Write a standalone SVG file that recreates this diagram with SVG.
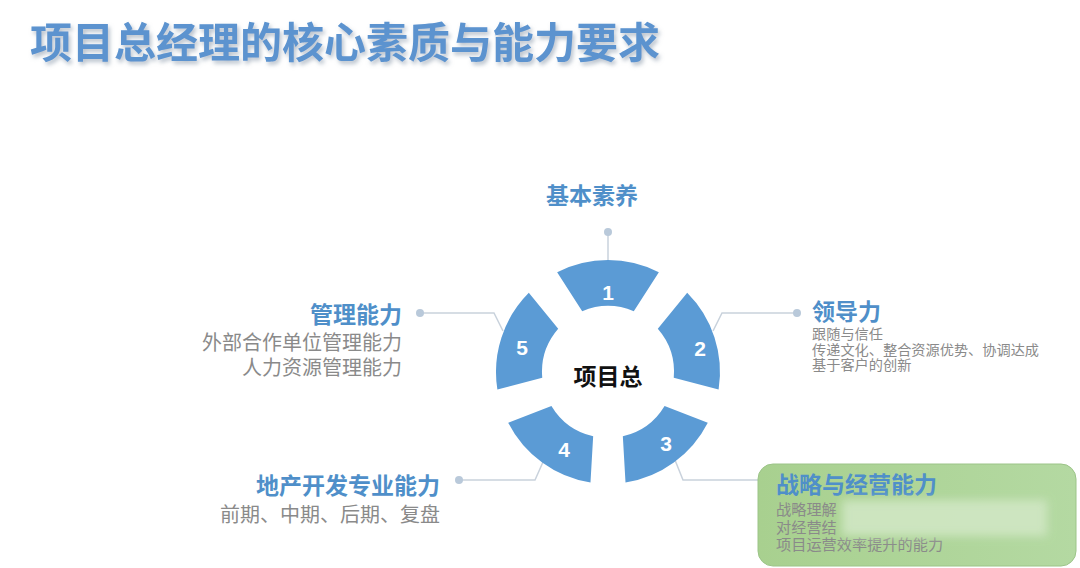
<svg xmlns="http://www.w3.org/2000/svg" width="1080" height="568" viewBox="0 0 1080 568">
<defs>
<style>
.seg{fill:#5b9bd5}
.num{font-family:"Liberation Sans",Arial,sans-serif;font-weight:bold;font-size:21px;fill:#fff;text-anchor:middle;dominant-baseline:central}
.head{font-family:"Noto Sans CJK SC",sans-serif;font-weight:bold;font-size:23px;fill:#4f8fc9}
.sub{font-family:"Noto Sans CJK SC",sans-serif;fill:#8a8a8a}
.conn{fill:none;stroke:#c9d2dc;stroke-width:1.5}
.dot{fill:#b9c9da}
</style>
<filter id="sh" x="-5%" y="-20%" width="110%" height="150%">
<feDropShadow dx="2" dy="3" stdDeviation="2" flood-color="#8a9aaa" flood-opacity="0.6"/>
</filter>
<filter id="blur" x="-20%" y="-50%" width="140%" height="200%">
<feGaussianBlur stdDeviation="5"/>
</filter>
<linearGradient id="gb" x1="0" y1="0" x2="1" y2="0">
<stop offset="0" stop-color="#a8d08f"/>
<stop offset="1" stop-color="#b4d9a2"/>
</linearGradient>
<path id="sector" d="M -50.85 -99.79 A 112 112 0 0 1 50.85 -99.79 L 25.8 -60.75 A 66 66 0 0 0 -25.8 -60.75 Z"/>
</defs>
<rect width="1080" height="568" fill="#fff"/>

<g id="title">
<text x="30" y="58" font-family="Noto Sans CJK SC,sans-serif" font-weight="bold" font-size="42" fill="#5b93cf" filter="url(#sh)">项目总经理的核心素质与能力要求</text>
</g>

<g id="connectors">
<polyline class="conn" points="608,262 608,232"/>
<circle class="dot" cx="608" cy="232" r="4"/>
<polyline class="conn" points="713,331 722,313 797,313"/>
<circle class="dot" cx="797" cy="313" r="4"/>
<polyline class="conn" points="675,460 683,480 760,480"/>
<polyline class="conn" points="503,331 494,313 420,313"/>
<circle class="dot" cx="420" cy="313" r="4"/>
<polyline class="conn" points="543,462 535,480 459,480"/>
<circle class="dot" cx="459" cy="480" r="4"/>
</g>

<g id="ring" transform="translate(608,372)">
<g id="seg1"><use href="#sector" class="seg"/></g>
<g id="seg2"><use href="#sector" class="seg" transform="rotate(72)"/></g>
<g id="seg3"><use href="#sector" class="seg" transform="rotate(144)"/></g>
<g id="seg4"><use href="#sector" class="seg" transform="rotate(216)"/></g>
<g id="seg5"><use href="#sector" class="seg" transform="rotate(288)"/></g>
</g>
<g id="numbers">
<text class="num" x="608" y="292">1</text>
<text class="num" x="700" y="348">2</text>
<text class="num" x="666" y="443">3</text>
<text class="num" x="564" y="449">4</text>
<text class="num" x="522" y="347">5</text>
</g>
<g id="center">
<text x="608" y="375" font-family="Noto Sans CJK SC,sans-serif" font-weight="bold" font-size="23" fill="#111" text-anchor="middle" dominant-baseline="central">项目总</text>
</g>

<g id="node-basic">
<text class="head" x="592" y="204" text-anchor="middle">基本素养</text>
</g>

<g id="node-leader">
<text class="head" x="812" y="320">领导力</text>
<text class="sub" font-size="14.2"><tspan x="812" y="339">跟随与信任</tspan><tspan x="812" y="354.5">传递文化、整合资源优势、协调达成</tspan><tspan x="812" y="370">基于客户的创新</tspan></text>
</g>

<g id="node-manage">
<text class="head" x="402" y="323" text-anchor="end">管理能力</text>
<text class="sub" font-size="20" text-anchor="end"><tspan x="402" y="350">外部合作单位管理能力</tspan><tspan x="402" y="375">人力资源管理能力</tspan></text>
</g>

<g id="node-dev">
<text class="head" x="440" y="494" text-anchor="end">地产开发专业能力</text>
<text class="sub" x="440" y="522" font-size="20" text-anchor="end">前期、中期、后期、复盘</text>
</g>

<g id="node-strategy">
<rect x="758" y="464" width="318" height="102" rx="15" fill="url(#gb)" stroke="#9cc488" stroke-width="1"/>
<text class="head" x="776" y="493">战略与经营能力</text>
<text class="sub" font-size="15.2" fill="#7d8f76"><tspan x="776" y="515">战略理解</tspan><tspan x="776" y="532.5">对经营结</tspan><tspan x="776" y="550">项目运营效率提升的能力</tspan></text>
<rect x="842" y="500" width="205" height="36" fill="#cfe6c2" opacity="0.95" filter="url(#blur)"/>
</g>
</svg>
